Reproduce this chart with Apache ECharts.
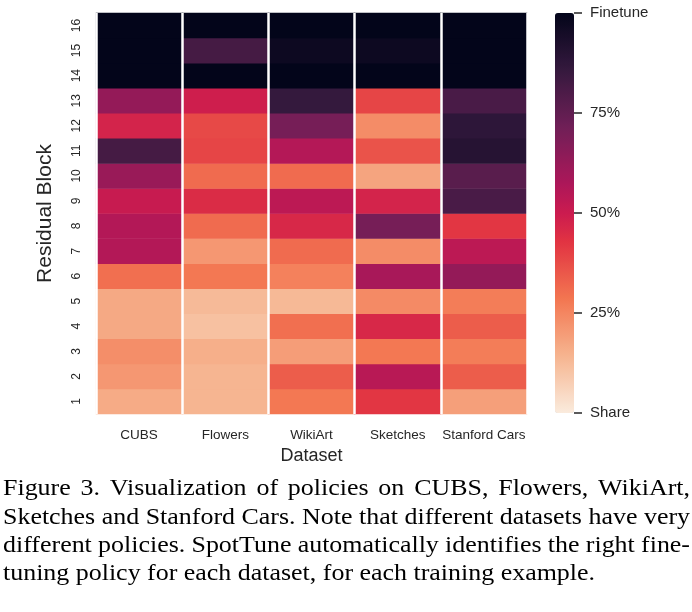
<!DOCTYPE html>
<html>
<head>
<meta charset="utf-8">
<script src="https://cdn.jsdelivr.net/npm/echarts@6/dist/echarts.min.js"></script>
<style>
html, body { margin: 0; padding: 0; background: #fff; }
#main { width: 692px; height: 612px; }
</style>
</head>
<body>
<div id="main"></div>
<script>
// data, block 1 -> 16 (0 = share, 1 = finetune)
var datasets = ['CUBS', 'Flowers', 'WikiArt', 'Sketches', 'Stanford Cars'];
var blocks = ['1', '2', '3', '4', '5', '6', '7', '8', '9', '10', '11', '12', '13', '14', '15', '16'];
var cubs     = [0.165, 0.21, 0.23, 0.17, 0.17, 0.30, 0.557, 0.557, 0.51, 0.62, 0.82, 0.475, 0.63, 1, 1, 1];
var flowers  = [0.14, 0.14, 0.155, 0.11, 0.127, 0.28, 0.21, 0.31, 0.45, 0.31, 0.39, 0.38, 0.49, 1, 0.82, 1];
var wikiart  = [0.28, 0.34, 0.196, 0.30, 0.13, 0.26, 0.31, 0.46, 0.536, 0.31, 0.555, 0.70, 0.86, 1, 0.97, 1];
var sketches = [0.422, 0.546, 0.28, 0.46, 0.24, 0.583, 0.235, 0.70, 0.475, 0.18, 0.36, 0.235, 0.39, 1, 0.97, 1];
var cars     = [0.19, 0.34, 0.27, 0.34, 0.27, 0.63, 0.536, 0.422, 0.81, 0.77, 0.90, 0.88, 0.81, 1, 1, 1];

var colorbarTicks = [0, 0.25, 0.5, 0.75, 1];
var colorbarLabels = ['Share', '25%', '50%', '75%', 'Finetune'];

// seaborn rocket_r, stops at 0, 1/7, 2/7, 3/7, 0.5, 4/7, 5/7, 6/7, 1
var rocketStops = [0, 1 / 7, 2 / 7, 3 / 7, 0.5, 4 / 7, 5 / 7, 6 / 7, 1];
var rocketR = ['#FAEBDD', '#F6B48F', '#F37651', '#E13342', '#CB1B4F', '#AD1759', '#701F57', '#35193E', '#03051A'];

var captionLines = [
    'Figure 3. Visualization of policies on CUBS, Flowers, WikiArt,',
    'Sketches and Stanford Cars. Note that different datasets have very',
    'different policies. SpotTune automatically identifies the right fine-',
    'tuning policy for each dataset, for each training example.'
];

var columns = [cubs, flowers, wikiart, sketches, cars];
var heatData = [];
for (var i = 0; i < columns.length; i++) {
    for (var j = 0; j < blocks.length; j++) {
        heatData.push([i, j, columns[i][j]]);
    }
}

// piecewise-linear colour ramp over uneven stops, sampled finely for the visualMap
function hexToRgb(h) {
    return [parseInt(h.substr(1, 2), 16), parseInt(h.substr(3, 2), 16), parseInt(h.substr(5, 2), 16)];
}
function rampColor(t) {
    for (var s = 1; s < rocketStops.length; s++) {
        if (t <= rocketStops[s] + 1e-9) {
            var f = (t - rocketStops[s - 1]) / (rocketStops[s] - rocketStops[s - 1]);
            var a = hexToRgb(rocketR[s - 1]), b = hexToRgb(rocketR[s]);
            return 'rgb(' + [0, 1, 2].map(function (c) { return Math.round(a[c] + (b[c] - a[c]) * f); }).join(',') + ')';
        }
    }
    return rocketR[rocketR.length - 1];
}
var rampColors = [];
for (var r = 0; r <= 140; r++) rampColors.push(rampColor(r / 140));

// caption: justified lines, words placed one by one
var captionFont = "24px 'Liberation Serif'";
var ctx = document.createElement('canvas').getContext('2d');
ctx.font = captionFont;
var lastW = ctx.measureText(captionLines[captionLines.length - 1]).width;
var sx = (595 - 3) / lastW;
var spaceW = ctx.measureText(' ').width * sx;
var captionEls = [];
for (var l = 0; l < captionLines.length; l++) {
    var words = captionLines[l].split(' ');
    var widths = words.map(function (w) { return ctx.measureText(w).width * sx; });
    var total = widths.reduce(function (a, b) { return a + b; }, 0);
    var gap = l < captionLines.length - 1 ? (690 - 3 - total) / (words.length - 1) : spaceW;
    var x = 3;
    var baseline = 497 + l * 28.4;
    for (var k = 0; k < words.length; k++) {
        captionEls.push({
            type: 'text',
            x: x,
            y: baseline - 8,
            scaleX: sx,
            style: {
                text: words[k],
                font: captionFont,
                fill: '#000',
                verticalAlign: 'middle'
            }
        });
        x += widths[k] + gap;
    }
}

var axisFont = "'Liberation Sans', Arial, sans-serif";
var chart = echarts.init(document.getElementById('main'));
var option = {
    animation: false,
    backgroundColor: '#fff',
    grid: [
        {left: 96, top: 13, width: 431, height: 401},
        // thin strip just right of the colour bar, carries its tick marks and labels
        {left: 574, top: 13, width: 10, height: 400}
    ],
    xAxis: [
        {
            type: 'category',
            gridIndex: 0,
            data: datasets,
            z: 10,
            axisLine: {show: false},
            axisTick: {show: false},
            axisLabel: {interval: 0, fontSize: 13.5, color: '#262626', fontFamily: axisFont, margin: 14},
            splitLine: {show: true, interval: 0, lineStyle: {color: '#fff', width: 2.5}},
            name: 'Dataset',
            nameLocation: 'middle',
            nameGap: 33,
            nameTextStyle: {fontSize: 18, color: '#262626', fontFamily: axisFont}
        },
        {type: 'value', gridIndex: 1, show: false, min: 0, max: 1}
    ],
    yAxis: [
        {
            type: 'category',
            gridIndex: 0,
            data: blocks,
            axisLine: {show: false},
            axisTick: {show: false},
            axisLabel: {interval: 0, rotate: 90, fontSize: 12, color: '#262626', fontFamily: axisFont, margin: 13},
            name: 'Residual Block',
            nameLocation: 'middle',
            nameGap: 40,
            nameTextStyle: {fontSize: 21, color: '#262626', fontFamily: axisFont}
        },
        {
            type: 'value',
            gridIndex: 1,
            position: 'left',
            min: 0,
            max: 1,
            interval: 0.25,
            splitLine: {show: false},
            axisLine: {show: false},
            axisTick: {show: true, inside: true, length: 8, lineStyle: {color: '#262626', width: 1.5}},
            axisLabel: {
                inside: true,
                fontSize: 15,
                color: '#262626',
                fontFamily: axisFont,
                margin: 16,
                formatter: function (v) {
                    var idx = colorbarTicks.indexOf(v);
                    return idx >= 0 ? colorbarLabels[idx] : '';
                }
            }
        }
    ],
    visualMap: {
        type: 'continuous',
        min: 0,
        max: 1,
        calculable: false,
        orient: 'vertical',
        left: 555,
        top: 13,
        padding: 0,
        itemWidth: 19,
        itemHeight: 400,
        seriesIndex: 0,
        inRange: {color: rampColors}
    },
    series: [
        {
            type: 'heatmap',
            xAxisIndex: 0,
            yAxisIndex: 0,
            data: heatData,
            itemStyle: {borderWidth: 0}
        }
    ],
    graphic: captionEls
};
chart.setOption(option);
</script>
</body>
</html>
